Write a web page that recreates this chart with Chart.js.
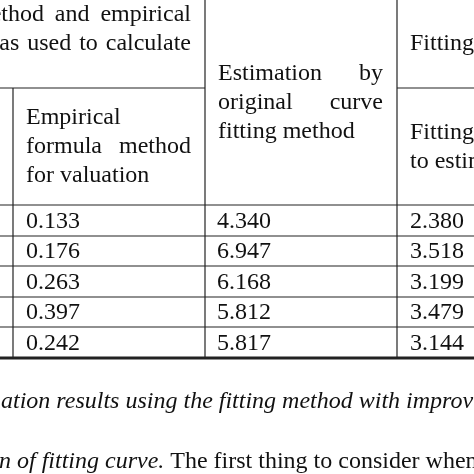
<!DOCTYPE html>
<html>
<head>
<meta charset="utf-8">
<script src="https://cdn.jsdelivr.net/npm/chart.js@4.4.0/dist/chart.umd.min.js"></script>
<style>
  html, body { margin: 0; padding: 0; background: #fff; }
  #wrap { width: 474px; height: 474px; }
</style>
</head>
<body>
<div id="wrap"><canvas id="tableChart"></canvas></div>
<script>
// table values
const empiricalValues = ["0.133", "0.176", "0.263", "0.397", "0.242"];
const originalFitValues = ["4.340", "6.947", "6.168", "5.812", "5.817"];
const improvedFitValues = ["2.380", "3.518", "3.199", "3.479", "3.144"];

const headerTop = [["method and empirical", true], ["formulas used to calculate", true]];
const headerEmpirical = [["Empirical", false], ["formula method", true], ["for valuation", false]];
const headerOriginal = [["Estimation by", true], ["original curve", true], ["fitting method", false]];
const headerImproved = ["Fitting", "Fitting", "to estimate"];

const captionLine = "Estimation results using the fitting method with improved";
const bodyItalic = "Derivation of fitting curve.";
const bodyRest = " The first thing to consider when";

// layout grid (page pixels)
const colX = [13, 205, 397];
const rowLines = [205, 236, 266, 297, 327, 358];
const FONT = "Liberation Serif, Times New Roman, serif";

function justify(ctx, text, left, right, y, doJustify) {
  const words = text.split(" ");
  if (!doJustify || words.length < 2) { ctx.fillText(text, left, y); return; }
  const total = words.reduce((a, w) => a + ctx.measureText(w).width, 0);
  const gap = (right - left - total) / (words.length - 1);
  let x = left;
  words.forEach(w => { ctx.fillText(w, x, y); x += ctx.measureText(w).width + gap; });
}

const tablePlugin = {
  id: "tablePlugin",
  afterDraw(chart) {
    const ctx = chart.ctx;
    const sx = chart.scales.x, sy = chart.scales.y;
    const X = v => sx.getPixelForValue(v);
    const Y = v => sy.getPixelForValue(v);
    ctx.save();
    ctx.strokeStyle = "#222";
    ctx.lineWidth = 1.2;
    const line = (x1, y1, x2, y2) => { ctx.beginPath(); ctx.moveTo(X(x1), Y(y1)); ctx.lineTo(X(x2), Y(y2)); ctx.stroke(); };
    // verticals
    line(colX[0], 88, colX[0], rowLines[5]);
    line(colX[1], 0, colX[1], rowLines[5]);
    line(colX[2], 0, colX[2], rowLines[5]);
    // header split lines
    line(0, 88, colX[1], 88);
    line(colX[2], 88, 474, 88);
    rowLines.slice(0, 5).forEach(r => line(0, r, 474, r));
    ctx.lineWidth = 3;
    line(0, rowLines[5], 474, rowLines[5]);

    ctx.fillStyle = "#111";
    ctx.textBaseline = "middle";
    ctx.font = "24px " + FONT;
    // header texts
    justify(ctx, headerTop[0][0], X(-28), X(191), Y(15), true);
    justify(ctx, headerTop[1][0], X(-66), X(191), Y(44), true);
    headerEmpirical.forEach((h, i) => justify(ctx, h[0], X(26), X(191), Y(118 + i * 29), h[1]));
    headerOriginal.forEach((h, i) => justify(ctx, h[0], X(218), X(383), Y(74 + i * 29), h[1]));
    ctx.fillText(headerImproved[0], X(410), Y(44));
    ctx.fillText(headerImproved[1], X(410), Y(133));
    ctx.fillText(headerImproved[2], X(410), Y(162));
    // values
    for (let i = 0; i < empiricalValues.length; i++) {
      const yc = Y((rowLines[i] + rowLines[i + 1]) / 2 + 1);
      ctx.fillText(empiricalValues[i], X(26), yc);
      ctx.fillText(originalFitValues[i], X(217), yc);
      ctx.fillText(improvedFitValues[i], X(410), yc);
    }
    // caption and body text
    ctx.font = "italic 24px " + FONT;
    const capW = ctx.measureText("Estim").width;
    ctx.fillText(captionLine, X(-capW + 1), Y(402));
    const bi = bodyItalic.split(" ").slice(0, 1)[0];
    const off = ctx.measureText("Derivatio").width;
    const startX = X(-off - 1);
    ctx.fillText(bodyItalic, startX, Y(462));
    const w = ctx.measureText(bodyItalic).width;
    ctx.font = "24px " + FONT;
    ctx.fillText(bodyRest, startX + w, Y(462));
    ctx.restore();
  }
};

new Chart(document.getElementById("tableChart"), {
  type: "scatter",
  data: { datasets: [{ data: [] }] },
  options: {
    responsive: true,
    maintainAspectRatio: false,
    animation: false,
    layout: { padding: 0 },
    plugins: { legend: { display: false }, tooltip: { enabled: false } },
    scales: {
      x: { type: "linear", min: 0, max: 474, display: false },
      y: { type: "linear", min: 0, max: 474, reverse: true, display: false }
    }
  },
  plugins: [tablePlugin]
});
</script>
</body>
</html>
